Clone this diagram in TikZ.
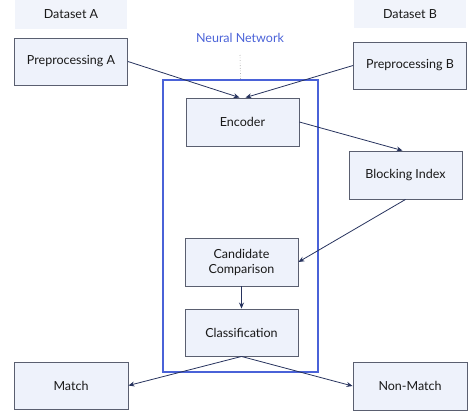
\documentclass[tikz,border=0pt]{standalone}
\usepackage{fontspec}
\setmainfont{Lato}
\usetikzlibrary{arrows.meta}
\definecolor{boxfill}{HTML}{EEF2FB}
\definecolor{hdrfill}{HTML}{F1F4FB}
\definecolor{boxline}{HTML}{5A5F70}
\definecolor{edge}{HTML}{27335E}
\definecolor{nnblue}{HTML}{4A62D8}
\begin{document}
\begin{tikzpicture}[x=1pt,y=-1pt,
  font=\fontsize{12.5}{15}\selectfont,
  proc/.style={draw=boxline, line width=0.9pt, fill=boxfill, inner sep=0pt, align=center, text=black!90},
  hdr/.style={fill=hdrfill, inner sep=0pt, text=black!90},
  conn/.style={draw=edge, line width=0.8pt, -{Stealth[length=6pt,width=5pt]}}]
\useasboundingbox (0,0) rectangle (474,413);
% header boxes
\node[hdr, minimum width=112pt, minimum height=29pt] (dsa) at (71,14) {Dataset A};
\node[hdr, minimum width=112pt, minimum height=28pt] (dsb) at (410,14) {Dataset B};
% neural network container
\node[draw=nnblue, line width=1.3pt, minimum width=155pt, minimum height=292pt, inner sep=0pt] (nn) at (240.5,226) {};
\node[text=nnblue] (nnlabel) at (240,38) {Neural Network};
\coordinate (dottop) at (240,55);
\draw[black!45, dotted, line width=0.6pt] (dottop) -- (nn.north);
% process boxes
\node[proc, minimum width=113pt, minimum height=47pt] (ppa) at (71,61.5) {Preprocessing A};
\node[proc, minimum width=113pt, minimum height=47pt] (ppb) at (410,65.5) {Preprocessing B};
\node[proc, minimum width=113pt, minimum height=48pt] (enc) at (242.5,122) {Encoder};
\node[proc, minimum width=113pt, minimum height=48pt] (blk) at (405.5,175) {Blocking Index};
\node[proc, minimum width=113pt, minimum height=48pt] (cand) at (241.5,262) {Candidate\\Comparison};
\node[proc, minimum width=113pt, minimum height=47pt] (cls) at (241.5,332.5) {Classification};
\node[proc, minimum width=114pt, minimum height=47pt] (match) at (71,385.5) {Match};
\node[proc, minimum width=114pt, minimum height=48pt] (nonmatch) at (410,386) {Non-Match};
% connectors
\draw[conn] (ppa.east) -- ([xshift=-3pt]enc.north);
\draw[conn] (ppb.west) -- ([xshift=3pt]enc.north);
\draw[conn] (enc.east) -- ([xshift=-3pt]blk.north);
\draw[conn] (blk.south) -- (cand.east);
\draw[conn] (cand.south) -- (cls.north);
\draw[conn] (cls.south) -- (match.east);
\draw[conn] (cls.south) -- (nonmatch.west);
\end{tikzpicture}
\end{document}
